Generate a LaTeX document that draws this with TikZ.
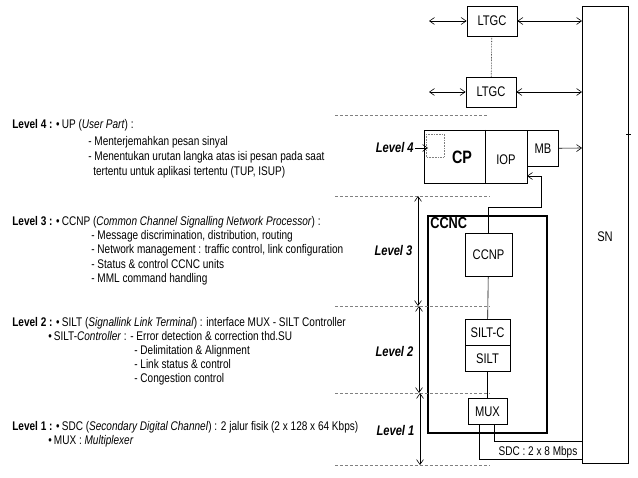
\documentclass[tikz,border=0pt]{standalone}
\usepackage{fontspec}
\setmainfont{Liberation Sans}[FakeStretch=0.8]
\usetikzlibrary{arrows.meta}
\begin{document}
\begin{tikzpicture}[x=1bp,y=-1bp,semithick,
  box/.style={draw,thick,inner sep=0pt,font=\fontsize{14}{16}\selectfont},
  txt/.style={anchor=base west,inner sep=0pt,font=\fontsize{12.6}{14}\selectfont},
  lvl/.style={font=\fontsize{14}{16}\selectfont\bfseries\itshape},
  sep/.style={densely dashed,thin,gray},
  arr/.style={-{Straight Barb[length=5pt,width=7pt]},semithick},
  darr/.style={{Straight Barb[length=5pt,width=7pt]}-{Straight Barb[length=5pt,width=7pt]},semithick}]
\useasboundingbox (0,0) rectangle (638,478);
% SN
\draw[thick] (582,6) rectangle (628,463);
\node (sn) at (605,237) {\fontsize{14}{16}\selectfont SN};
\draw (626,134) -- (631,134);
% LTGC
\node[box,minimum width=50bp,minimum height=30bp] (l1) at (492,21) {LTGC};
\node[box,minimum width=50bp,minimum height=30bp] (l2) at (491,92) {LTGC};
\coordinate (a1) at (429,21); \coordinate (b1) at (582,21);
\coordinate (a2) at (429,92); \coordinate (b2) at (582,92);
\draw[darr] (a1) -- (l1); \draw[darr] (l1) -- (b1);
\draw[darr] (a2) -- (l2); \draw[darr] (l2) -- (b2);
\draw[densely dotted] (l1) -- (l2);
% CP / IOP / MB
\draw[thick] (424,130) rectangle (527,183);
\draw[thick] (485,130) -- (485,183);
\node[box,minimum width=31bp,minimum height=36bp,anchor=north west] (mb) at (527,130) {MB};
\node[font=\fontsize{18}{20}\selectfont\bfseries] (cp) at (462,157) {CP};
\node[font=\fontsize{14}{16}\selectfont] (iop) at (506,160) {IOP};
\draw[gray,densely dotted] (426,134) rectangle (444,157);
\coordinate (mbe) at (582,148);
\draw[arr] (mb) -- (mbe);
\node[lvl,anchor=east,inner sep=1pt] (l4) at (415,148) {Level 4};
\coordinate (l4e) at (428,148);
\draw[arr] (l4) -- (l4e);
% CCNC
\draw[line width=1.8pt] (428,216) rectangle (547,433);
\node[anchor=north west,inner sep=1pt,font=\fontsize{16}{18}\selectfont\bfseries] (ccnc) at (429,216) {CCNC};
\node[box,minimum width=47bp,minimum height=43bp,anchor=north] (ccnp) at (488.5,233) {CCNP};
\node[box,minimum width=45bp,minimum height=26bp,anchor=north] (siltc) at (487.5,319) {SILT-C};
\node[box,minimum width=45bp,minimum height=26bp,anchor=north] (silt) at (487.5,345) {SILT};
\node[box,minimum width=39bp,minimum height=26bp,anchor=north] (mux) at (487.5,398) {MUX};
\draw (ccnp) -- (siltc);
\draw (silt) -- (mux);
\coordinate (iopr) at (527,176);
\draw[arr] (ccnp.north) |- (541,207) |- (iopr);
\coordinate (sdc1) at (582,441); \coordinate (sdc2) at (582,459);
\draw (mux.south -| 494,0) |- (sdc1);
\draw (mux.south -| 479,0) |- (sdc2);
\node[anchor=base,inner sep=0pt,font=\fontsize{12.6}{14}\selectfont] (sdc) at (538,455) {SDC : 2 x 8 Mbps};
% level separators
\draw[sep] (335,115) -- (488,115);
\draw[sep] (335,196) -- (490,196);
\draw[sep] (335,306) -- (490,306);
\draw[sep] (335,393) -- (490,393);
\draw[sep] (335,465) -- (490,465);
\coordinate (t3) at (418,196); \coordinate (b3) at (418,306);
\coordinate (t2) at (419,306); \coordinate (b2x) at (419,393);
\coordinate (t1) at (420,393); \coordinate (b1x) at (420,465);
\draw[darr] (t3) -- (b3); \draw[darr] (t2) -- (b2x); \draw[darr] (t1) -- (b1x);
\node[lvl,anchor=east] (lv3) at (416,251) {Level 3};
\node[lvl,anchor=east] (lv2) at (417,352) {Level 2};
\node[lvl,anchor=east] (lv1) at (418,431) {Level 1};
% left text
\node[txt] (t4a) at (12,129) {\textbf{Level 4 :} \textbullet\,UP (\textit{User Part}) :};
\node[txt] (t4b) at (88,146) {- Menterjemahkan pesan sinyal};
\node[txt] (t4c) at (88,161) {- Menentukan urutan langka atas isi pesan pada saat};
\node[txt] (t4d) at (93,176) {tertentu untuk aplikasi tertentu (TUP, ISUP)};
\node[txt] (t3a) at (12,226) {\textbf{Level 3 :} \textbullet\,CCNP (\textit{Common Channel Signalling Network Processor}) :};
\node[txt] (t3b) at (91,240) {- Message discrimination, distribution, routing};
\node[txt] (t3c) at (91,254) {- Network management : traffic control, link configuration};
\node[txt] (t3d) at (91,268) {- Status \& control CCNC units};
\node[txt] (t3e) at (91,282) {- MML command handling};
\node[txt] (t2a) at (12,326) {\textbf{Level 2 :} \textbullet\,SILT (\textit{Signallink Link Terminal}) : interface MUX - SILT Controller};
\node[txt] (t2b) at (48,340) {\textbullet\,SILT-\textit{Controller} : - Error detection \& correction thd.SU};
\node[txt] (t2c) at (134,354) {- Delimitation \& Alignment};
\node[txt] (t2d) at (134,368) {- Link status \& control};
\node[txt] (t2e) at (134,382) {- Congestion control};
\node[txt] (t1a) at (12,430) {\textbf{Level 1 :} \textbullet\,SDC (\textit{Secondary Digital Channel}) : 2 jalur fisik (2 x 128 x 64 Kbps)};
\node[txt] (t1b) at (48,444) {\textbullet\,MUX : \textit{Multiplexer}};
\end{tikzpicture}
\end{document}
